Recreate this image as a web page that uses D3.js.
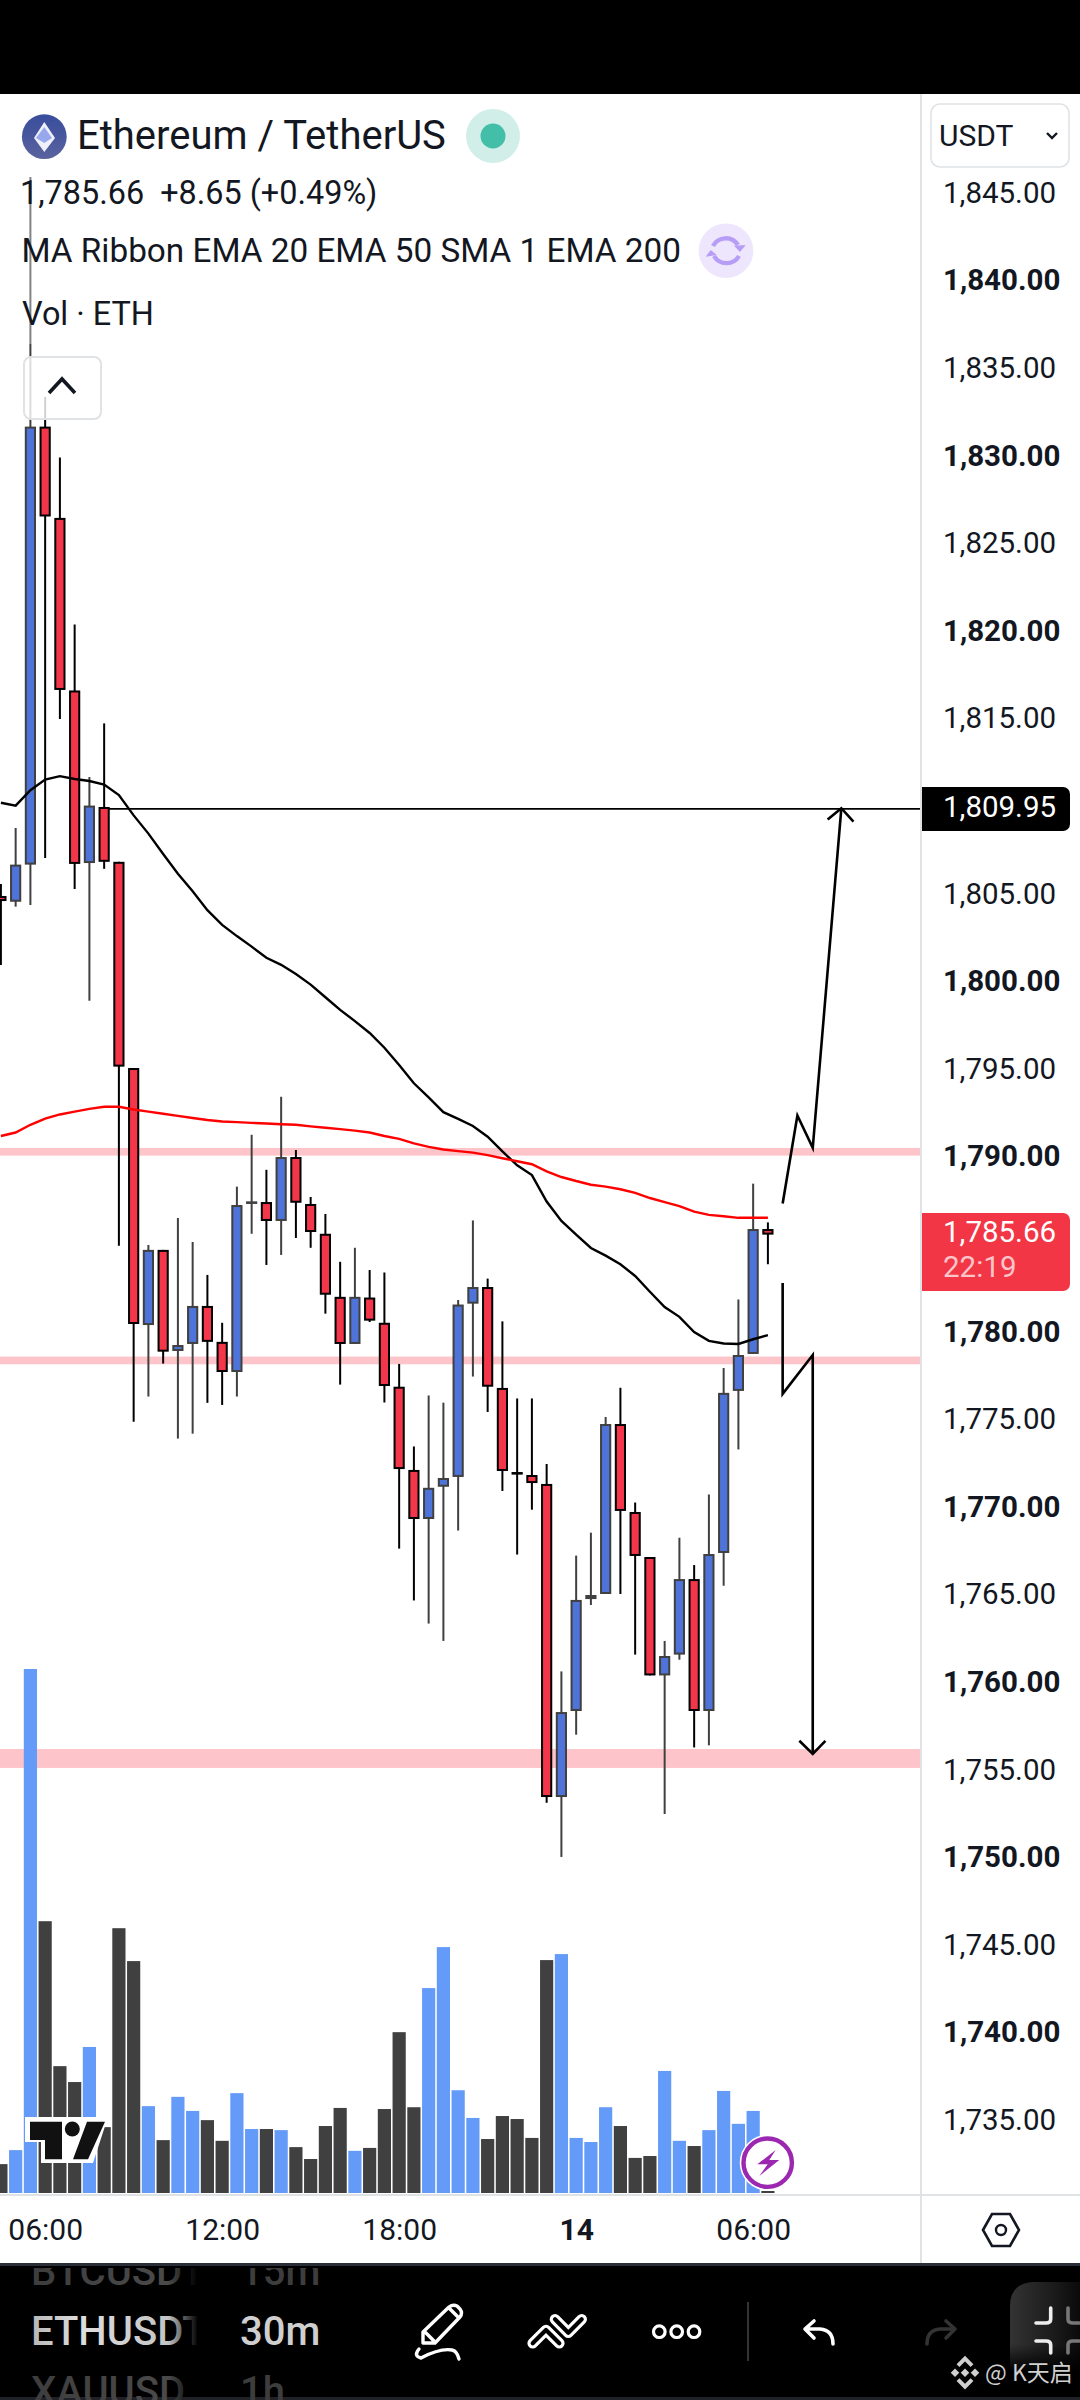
<!DOCTYPE html>
<html>
<head>
<meta charset="utf-8">
<title>ETHUSDT 30m</title>
<script src="https://cdn.jsdelivr.net/npm/d3@7"></script>
<style>
  html, body { margin: 0; padding: 0; background: #000; }
  svg { display: block; }
  text { font-family: Roboto, "Noto Sans CJK SC", sans-serif; }
</style>
</head>
<body>
<svg id="chart" width="1080" height="2400"></svg>
<script>
// 30m candles, left to right
const opens = [1804.83,1804.50,1806.62,1831.62,1826.41,1816.56,1806.71,1809.91,1806.78,1795.01,1780.34,1784.63,1778.86,1779.26,1781.43,1779.38,1777.66,1787.30,1787.36,1786.28,1789.93,1787.25,1785.55,1781.95,1779.26,1781.91,1780.47,1776.82,1772.07,1769.27,1771.11,1771.67,1781.56,1782.51,1776.75,1771.95,1771.78,1771.27,1753.40,1758.31,1764.70,1764.99,1774.69,1769.67,1767.10,1760.34,1761.53,1765.84,1758.31,1767.33,1776.58,1778.69,1785.82]
const highs = [1805.51,1808.71,1845.87,1833.31,1829.86,1820.32,1811.62,1814.68,1806.78,1795.01,1784.91,1784.63,1786.45,1785.08,1783.20,1780.47,1788.24,1791.20,1789.20,1793.37,1790.33,1787.65,1786.68,1783.95,1784.75,1783.48,1783.34,1778.12,1773.41,1776.32,1775.91,1781.77,1786.31,1782.99,1780.55,1776.15,1776.15,1772.41,1760.57,1767.18,1768.49,1775.09,1776.76,1770.21,1767.10,1762.31,1768.20,1766.64,1770.67,1777.89,1781.80,1788.41,1786.20]
const lows = [1800.89,1804.22,1804.32,1807.00,1814.93,1805.23,1798.85,1806.38,1784.87,1774.82,1776.26,1778.14,1773.86,1774.14,1775.90,1775.78,1776.26,1785.55,1783.77,1784.34,1785.31,1784.75,1780.99,1776.94,1779.26,1780.51,1775.92,1767.58,1764.62,1763.30,1762.31,1768.61,1777.40,1775.38,1770.87,1767.24,1769.80,1753.08,1749.98,1756.96,1764.36,1764.99,1764.99,1761.53,1760.34,1752.43,1761.24,1756.23,1756.35,1765.46,1773.24,1778.69,1783.81]
const closes = [1804.54,1806.62,1831.62,1826.49,1816.59,1806.66,1809.99,1806.78,1795.09,1780.40,1784.63,1778.82,1779.20,1781.43,1779.38,1777.66,1787.19,1787.40,1786.28,1789.93,1787.32,1785.65,1782.07,1779.26,1781.95,1780.59,1776.86,1772.12,1769.27,1771.05,1771.61,1781.51,1782.51,1776.82,1772.01,1771.90,1771.32,1753.40,1758.25,1764.65,1764.93,1774.69,1769.73,1767.16,1760.34,1761.45,1765.84,1758.31,1767.27,1776.47,1778.63,1785.82,1785.50]
const volumes = [289,429,5242,2719,1269,1110,1461,659,2649,2320,869,529,962,821,729,522,999,640,640,629,459,340,670,851,422,451,840,1609,858,2050,2460,1028,751,540,770,740,551,2330,2390,551,510,858,670,351,370,1221,522,470,629,1021,692,821,20]
const emaBlack = [1810.15,1809.99,1810.87,1811.47,1811.67,1811.51,1811.39,1811.19,1810.59,1809.43,1808.39,1807.23,1806.10,1805.10,1804.02,1803.18,1802.54,1801.94,1801.30,1800.90,1800.38,1799.77,1799.05,1798.33,1797.69,1797.01,1796.17,1795.18,1794.14,1793.33,1792.49,1792.11,1791.70,1791.09,1790.25,1789.46,1788.90,1787.39,1786.28,1785.50,1784.74,1784.30,1783.81,1783.14,1782.24,1781.37,1780.81,1779.94,1779.44,1779.29,1779.26,1779.53,1779.76]
const emaRed = [1791.13,1791.33,1791.77,1792.12,1792.36,1792.52,1792.68,1792.80,1792.80,1792.64,1792.52,1792.40,1792.28,1792.16,1792.04,1791.96,1791.92,1791.88,1791.84,1791.80,1791.77,1791.68,1791.60,1791.52,1791.44,1791.33,1791.13,1790.97,1790.71,1790.51,1790.36,1790.27,1790.18,1790.04,1789.86,1789.69,1789.52,1789.11,1788.79,1788.56,1788.35,1788.24,1788.09,1787.88,1787.59,1787.36,1787.13,1786.81,1786.63,1786.55,1786.46,1786.46,1786.46]

const priceTicks = [1845,1840,1835,1830,1825,1820,1815,1805,1800,1795,1790,1780,1775,1770,1765,1760,1755,1750,1745,1740,1735]
const timeTicks = [3,15,27,39,51]
const timeLabels = ['06:00','12:00','18:00','14','06:00']

// [low, high] of the drawn pink zones
const zones = [[1790.01,1790.45],[1778.10,1778.54],[1755.06,1756.14]]
const targetLevel = 1809.80
const targetStart = 7.3

// hand drawn arrows as [bar index, price]
const arrowUp = [[53,1787.28],[54,1792.30],[55.04,1790.45],[56.98,1809.84]]
const arrowUpHead = [[56.05,1809.19],[56.98,1809.84],[57.8,1809.08]]
const arrowDown = [[53,1782.74],[53,1776.41],[55.04,1778.63],[55.04,1755.86]]
const arrowDownHead = [[54.13,1756.61],[55.04,1755.86],[55.9,1756.61]]

const headerSymbol = 'Ethereum / TetherUS'
const headerPrice = '1,785.66  +8.65 (+0.49%)'
const headerMa = 'MA Ribbon EMA 20 EMA 50 SMA 1 EMA 200'
const headerVol = 'Vol · ETH'
const targetLabel = '1,809.95'
const lastLabel = '1,785.66'
const countdown = '22:19'

const UP = '#4f74d9', DOWN = '#f4364a'
const VOL_UP = '#649bf9', VOL_DOWN = '#404040'
const ZONE = '#fdc5c9'

const PANE_RIGHT = 920, PANE_TOP = 94, PANE_BOTTOM = 2194, FOOT_TOP = 2263

const candles = opens.map((o, i) => ({
  i, o, h: highs[i], l: lows[i], c: closes[i], v: volumes[i], up: closes[i] >= o
}))

const x = d3.scaleLinear().domain([0, 52]).range([0.9, 767.9])
const y = d3.scaleLinear().domain([1780, 1845]).range([1331, 192.2])
const yVol = d3.scaleLinear().domain([0, 5242]).range([PANE_BOTTOM - 1, PANE_BOTTOM - 525])

const svg = d3.select('#chart')
const defs = svg.append('defs')

defs.append('clipPath').attr('id', 'pane').append('rect')
  .attr('x', 0).attr('y', PANE_TOP).attr('width', PANE_RIGHT).attr('height', PANE_BOTTOM - PANE_TOP)
defs.append('clipPath').attr('id', 'foot').append('rect')
  .attr('x', 0).attr('y', FOOT_TOP + 5).attr('width', 1080).attr('height', 400)

const fade = (id, stops) => {
  const g = defs.append('linearGradient').attr('id', id)
    .attr('gradientUnits', 'userSpaceOnUse')
    .attr('x1', 32).attr('x2', 198).attr('y1', 0).attr('y2', 0)
  stops.forEach(s => g.append('stop').attr('offset', s[0]).attr('stop-color', s[1]))
}
fade('fadeBright', [[0, '#b8b8b8'], [0.3, '#dedede'], [0.82, '#c4c4c4'], [1, '#000']])
fade('fadeDim', [[0, '#3d3d3d'], [0.82, '#4a4a4a'], [1, '#000']])

svg.append('rect').attr('width', 1080).attr('height', 2400).attr('fill', '#000')
svg.append('rect').attr('y', PANE_TOP).attr('width', 1080).attr('height', FOOT_TOP - PANE_TOP).attr('fill', '#fff')

const pane = svg.append('g').attr('clip-path', 'url(#pane)')

pane.selectAll('rect.zone').data(zones).join('rect')
  .attr('class', 'zone')
  .attr('x', 0).attr('width', PANE_RIGHT)
  .attr('y', d => y(d[1]))
  .attr('height', d => y(d[0]) - y(d[1]))
  .attr('fill', ZONE)

pane.selectAll('rect.vol').data(candles).join('rect')
  .attr('class', 'vol')
  .attr('x', d => x(d.i) - 6.6)
  .attr('width', 13.2)
  .attr('y', d => yVol(d.v))
  .attr('height', d => yVol(0) - yVol(d.v))
  .attr('fill', d => d.up ? VOL_UP : VOL_DOWN)

pane.selectAll('line.wick').data(candles).join('line')
  .attr('class', 'wick')
  .attr('x1', d => x(d.i)).attr('x2', d => x(d.i))
  .attr('y1', d => y(d.h)).attr('y2', d => y(d.l))
  .attr('stroke', d => d.up ? '#404040' : '#000')
  .attr('stroke-width', 2)

pane.selectAll('rect.body').data(candles).join('rect')
  .attr('class', 'body')
  .attr('x', d => x(d.i) - 4.6)
  .attr('width', 9.2)
  .attr('y', d => y(Math.max(d.o, d.c)) + 1)
  .attr('height', d => Math.max(0.6, y(Math.min(d.o, d.c)) - y(Math.max(d.o, d.c)) - 2))
  .attr('fill', d => d.up ? UP : DOWN)
  .attr('stroke', d => d.up ? '#404040' : '#000')
  .attr('stroke-width', 2)

const maLine = d3.line().x((d, i) => x(i)).y(d => y(d))
pane.append('path').attr('d', maLine(emaBlack)).attr('fill', 'none').attr('stroke', '#000').attr('stroke-width', 2.4)
pane.append('path').attr('d', maLine(emaRed)).attr('fill', 'none').attr('stroke', '#ff0000').attr('stroke-width', 2.4)

pane.append('line')
  .attr('x1', x(targetStart)).attr('x2', PANE_RIGHT)
  .attr('y1', y(targetLevel)).attr('y2', y(targetLevel))
  .attr('stroke', '#000').attr('stroke-width', 1.6)

const drawnLine = d3.line().x(d => x(d[0])).y(d => y(d[1]))
;[arrowUp, arrowUpHead, arrowDown, arrowDownHead].forEach(pts => {
  pane.append('path').attr('d', drawnLine(pts))
    .attr('fill', 'none').attr('stroke', '#000').attr('stroke-width', 2.6)
    .attr('stroke-linejoin', 'miter')
})

// price scale
svg.append('line').attr('x1', 921).attr('x2', 921).attr('y1', PANE_TOP).attr('y2', FOOT_TOP)
  .attr('stroke', '#e0e3e6').attr('stroke-width', 2)

const yAxis = d3.axisRight(y)
  .tickValues(priceTicks)
  .tickSize(0)
  .tickPadding(0)
  .tickFormat(d3.format(',.2f'))
const yAxisG = svg.append('g').attr('transform', 'translate(943,0.6)').call(yAxis)
yAxisG.select('.domain').remove()
yAxisG.selectAll('text')
  .attr('font-size', 29.5)
  .attr('fill', '#131722')
  .attr('font-weight', d => d % 10 === 0 ? 700 : 400)
  .style('font-family', 'Roboto')

// time scale
svg.append('line').attr('x1', 0).attr('x2', 1080).attr('y1', 2195).attr('y2', 2195)
  .attr('stroke', '#e0e3e6').attr('stroke-width', 2)
const xAxis = d3.axisBottom(x)
  .tickValues(timeTicks)
  .tickSize(0)
  .tickPadding(0)
  .tickFormat((d, i) => timeLabels[i])
const xAxisG = svg.append('g').attr('transform', 'translate(0,2219)').call(xAxis)
xAxisG.select('.domain').remove()
xAxisG.selectAll('text')
  .attr('font-size', 30)
  .attr('fill', '#131722')
  .attr('font-weight', d => d === 39 ? 700 : 400)
  .style('font-family', 'Roboto')

svg.append('path')
  .attr('d', 'M-18 0 L-9 -16 L9 -16 L18 0 L9 16 L-9 16 Z')
  .attr('transform', 'translate(1001,2230)')
  .attr('fill', 'none').attr('stroke', '#131722').attr('stroke-width', 2.6)
svg.append('circle').attr('cx', 1001).attr('cy', 2230).attr('r', 5)
  .attr('fill', 'none').attr('stroke', '#131722').attr('stroke-width', 2.4)

// price labels
const flag = (top, bottom, fill) => svg.append('path')
  .attr('d', `M922 ${top} H1063 a7 7 0 0 1 7 7 V${bottom - 7} a7 7 0 0 1 -7 7 H922 Z`)
  .attr('fill', fill)
flag(787, 831, '#000')
svg.append('text').attr('x', 943).attr('y', 807).attr('dy', '0.35em')
  .attr('font-size', 29.5).attr('fill', '#fff').text(targetLabel)
flag(1213, 1291, '#f23645')
svg.append('text').attr('x', 943).attr('y', 1232).attr('dy', '0.35em')
  .attr('font-size', 29.5).attr('fill', '#fff').text(lastLabel)
svg.append('text').attr('x', 943).attr('y', 1267).attr('dy', '0.35em')
  .attr('font-size', 29.5).attr('fill', '#fbc5ca').text(countdown)

// currency button
svg.append('rect').attr('x', 931).attr('y', 104).attr('width', 138).attr('height', 63).attr('rx', 9)
  .attr('fill', '#fff').attr('stroke', '#e0e3e6').attr('stroke-width', 1.6)
svg.append('text').attr('x', 939).attr('y', 135).attr('dy', '0.35em')
  .attr('font-size', 30).attr('fill', '#131722').text('USDT')
svg.append('path').attr('d', 'M1047 133 L1052 138 L1057 133')
  .attr('fill', 'none').attr('stroke', '#131722').attr('stroke-width', 2.4)

// legend sits over the chart, whitens the wick a little
svg.append('rect').attr('x', 0).attr('y', 176).attr('width', 700).attr('height', 168)
  .attr('fill', '#fff').attr('fill-opacity', 0.35)

// coin
const coin = defs.append('linearGradient').attr('id', 'coinFill').attr('x1', 0).attr('x2', 0).attr('y1', 0).attr('y2', 1)
coin.append('stop').attr('offset', 0).attr('stop-color', '#384d9c')
coin.append('stop').attr('offset', 1).attr('stop-color', '#5a639f')
svg.append('circle').attr('cx', 44.3).attr('cy', 136.7).attr('r', 22.4).attr('fill', 'url(#coinFill)')
svg.append('path').attr('d', 'M44.3 122 L55 138 L44.3 152 L34 138 Z').attr('fill', '#f0f0fb')
svg.append('path').attr('d', 'M44.3 127 L52 138 L44.3 143 L36 138 Z').attr('fill', '#97a9ec')

svg.append('text').attr('x', 77).attr('y', 135).attr('dy', '0.35em')
  .attr('font-size', 40).attr('fill', '#131722').text(headerSymbol)
svg.append('circle').attr('cx', 493).attr('cy', 136).attr('r', 27).attr('fill', '#d2eee9')
svg.append('circle').attr('cx', 493).attr('cy', 136).attr('r', 12.5).attr('fill', '#42bea9')

svg.append('text').attr('x', 20).attr('y', 193).attr('dy', '0.35em')
  .attr('font-size', 32.4).attr('fill', '#131722').attr('xml:space', 'preserve').text(headerPrice)
svg.append('text').attr('x', 21.5).attr('y', 250).attr('dy', '0.35em')
  .attr('font-size', 33.3).attr('fill', '#131722').text(headerMa)
svg.append('text').attr('x', 22).attr('y', 314).attr('dy', '0.35em')
  .attr('font-size', 32.4).attr('fill', '#131722').text(headerVol)

// sync badge
svg.append('circle').attr('cx', 726).attr('cy', 250.7).attr('r', 27.3).attr('fill', '#ede6fd')
svg.append('path').attr('d', 'M713 246 A14.5 14.5 0 0 1 738 245 M739 256 A14.5 14.5 0 0 1 714 256')
  .attr('fill', 'none').attr('stroke', '#b79df5').attr('stroke-width', 4.4)
svg.append('path').attr('d', 'M734 245.7 L745.7 245 L740 252 Z M705.7 256.7 L716.7 255 L710.7 250 Z').attr('fill', '#b79df5')

// collapse button
svg.append('rect').attr('x', 24).attr('y', 357).attr('width', 77).attr('height', 62).attr('rx', 7)
  .attr('fill', '#fff').attr('fill-opacity', 0.82).attr('stroke', '#e0e3e6').attr('stroke-width', 2)
svg.append('path').attr('d', 'M49 393 L62 379 L75 393')
  .attr('fill', 'none').attr('stroke', '#131722').attr('stroke-width', 3.6)

// TradingView mark
svg.append('path').attr('d', 'M25 2117 H108 L93 2163 H41 V2142 H25 Z').attr('fill', '#fff')
svg.append('path').attr('d', 'M30 2121.7 H62 V2159.3 H45 V2140 H30 Z M87 2121.7 H105 L88 2159.3 H73 Z').attr('fill', '#111')
svg.append('circle').attr('cx', 72.3).attr('cy', 2129).attr('r', 10).attr('fill', '#fff')
svg.append('circle').attr('cx', 72.3).attr('cy', 2129).attr('r', 7.5).attr('fill', '#111')

// lightning badge
svg.append('circle').attr('cx', 767.7).attr('cy', 2162.7).attr('r', 28).attr('fill', '#fff')
svg.append('circle').attr('cx', 767.7).attr('cy', 2162.7).attr('r', 24.2).attr('fill', '#fff')
  .attr('stroke', '#9c27b0').attr('stroke-width', 4.4)
svg.append('path').attr('d', 'M775.7 2150 L757.3 2164.3 L767.7 2164.3 L759.3 2176 L779.3 2160 L769.3 2160 Z').attr('fill', '#9c27b0')

// bottom toolbar
svg.append('rect').attr('y', FOOT_TOP).attr('width', 1080).attr('height', 3).attr('fill', '#2a2e39')
svg.append('rect').attr('y', 2397).attr('width', 1080).attr('height', 3).attr('fill', '#1f2127')

const foot = svg.append('g').attr('clip-path', 'url(#foot)')
foot.append('text').attr('x', 31).attr('y', 2285).attr('font-size', 40).attr('font-weight', 500)
  .attr('fill', 'url(#fadeDim)').text('BTCUSDT')
foot.append('text').attr('x', 240).attr('y', 2285).attr('font-size', 40).attr('font-weight', 500)
  .attr('fill', '#3d3d3d').text('15m')
foot.append('text').attr('x', 31).attr('y', 2345).attr('font-size', 40).attr('font-weight', 500)
  .attr('fill', 'url(#fadeBright)').text('ETHUSDT')
foot.append('text').attr('x', 240).attr('y', 2345).attr('font-size', 40).attr('font-weight', 500)
  .attr('fill', '#cfcfcf').text('30m')
foot.append('text').attr('x', 31).attr('y', 2405).attr('font-size', 40).attr('font-weight', 500)
  .attr('fill', 'url(#fadeDim)').text('XAUUSD')
foot.append('text').attr('x', 240).attr('y', 2405).attr('font-size', 40).attr('font-weight', 500)
  .attr('fill', '#3d3d3d').text('1h')

const icon = (d, color, w) => svg.append('path').attr('d', d)
  .attr('fill', 'none').attr('stroke', color || '#fff').attr('stroke-width', w || 3.4)
  .attr('stroke-linejoin', 'round').attr('stroke-linecap', 'round')

// pen
icon('M423 2343 V2332 L449 2307 Q453 2304 457 2306 L460 2309 Q463 2313 460 2317 L435 2343 Z M425 2332 L435 2342 M449 2308 L458 2317')
icon('M419 2349 Q413 2356 421 2358 Q440 2348 452 2350 Q457 2351 459 2359')
// trend tools, outlined chevrons
;['M532.7 2343.3 L546 2330 L559.3 2343.3', 'M555 2319.3 L568.3 2332.7 L581.7 2319.3'].forEach(d => {
  icon(d, '#fff', 10.6)
  icon(d, '#000', 4.2)
})
// more
;[659.3, 676.7, 694].forEach(cx => svg.append('circle').attr('cx', cx).attr('cy', 2331.7).attr('r', 5.8)
  .attr('fill', 'none').attr('stroke', '#fff').attr('stroke-width', 3.2))
svg.append('line').attr('x1', 748).attr('x2', 748).attr('y1', 2302).attr('y2', 2361)
  .attr('stroke', '#333').attr('stroke-width', 2)
// undo / redo
icon('M814 2321 L805 2329 L814 2338 M805 2329 H820 Q833 2330 833 2344', '#fff', 3.6)
icon('M946 2321 L955 2329 L946 2338 M955 2329 H940 Q927 2330 927 2344', '#333', 3.6)

// side panel with corner marks
const panel = defs.append('linearGradient').attr('id', 'panelFill')
panel.append('stop').attr('offset', 0).attr('stop-color', '#333')
panel.append('stop').attr('offset', 0.6).attr('stop-color', '#1c1c1c')
panel.append('stop').attr('offset', 1).attr('stop-color', '#0a0a0a')
const panelFade = defs.append('linearGradient').attr('id', 'panelFade').attr('x1', 0).attr('x2', 0).attr('y1', 0).attr('y2', 1)
panelFade.append('stop').attr('offset', 0).attr('stop-color', '#000').attr('stop-opacity', 0)
panelFade.append('stop').attr('offset', 1).attr('stop-color', '#000').attr('stop-opacity', 1)
svg.append('path').attr('d', 'M1080 2282 H1032 Q1010 2284 1010 2306 V2372 H1080 Z').attr('fill', 'url(#panelFill)')
svg.append('rect').attr('x', 1010).attr('y', 2344).attr('width', 70).attr('height', 28).attr('fill', 'url(#panelFade)')
icon('M1050.7 2308 V2319 Q1050.7 2323 1046 2323 H1036', '#eee', 3.6)
icon('M1036 2341 H1046 Q1050.7 2341 1050.7 2345 V2353', '#eee', 3.6)
icon('M1068 2308 V2319 Q1068 2323 1073 2323 H1079', '#777', 3.6)
icon('M1079 2341 H1073 Q1068 2341 1068 2345 V2353', '#777', 3.6)

// watermark
const wm = svg.append('g').attr('transform', 'translate(965,2372.7)').attr('fill', '#d0d0d0')
;[[-10, 0], [10, 0], [0, 0]].forEach(p => wm.append('rect')
  .attr('x', p[0] - 3).attr('y', p[1] - 3).attr('width', 6).attr('height', 6)
  .attr('transform', `rotate(45 ${p[0]} ${p[1]})`))
wm.append('path').attr('d', 'M-7 -7 L0 -14 L7 -7').attr('fill', 'none').attr('stroke', '#d0d0d0').attr('stroke-width', 4)
wm.append('path').attr('d', 'M-7 7 L0 14 L7 7').attr('fill', 'none').attr('stroke', '#d0d0d0').attr('stroke-width', 4)
svg.append('text').attr('x', 985).attr('y', 2381).attr('font-size', 23).attr('fill', '#cfcfcf')
  .style('font-family', '"Noto Sans CJK SC", Roboto').text('@ K天启')
</script>
</body>
</html>
